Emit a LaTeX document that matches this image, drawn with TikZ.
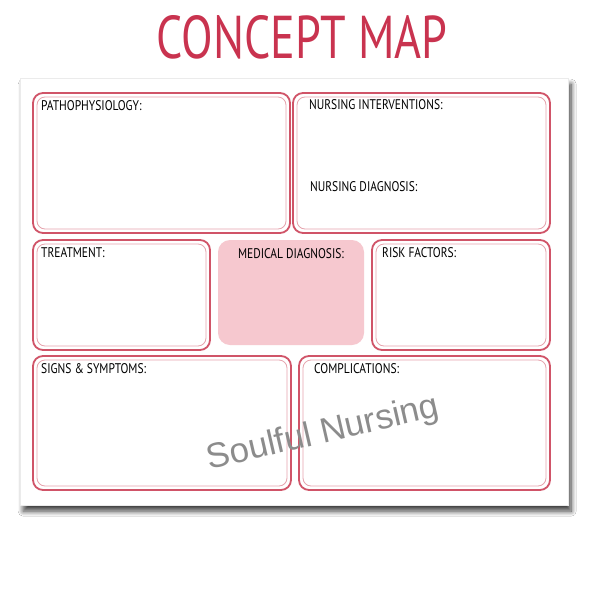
\documentclass[tikz,border=0pt]{standalone}
\usepackage{fontspec}
\setmainfont{PT Sans}
\newfontfamily\wmfont{Liberation Sans}
\usetikzlibrary{shadows.blur}
\definecolor{titlered}{HTML}{C9334F}
\definecolor{outerred}{HTML}{D05468}
\definecolor{innerpink}{HTML}{E6A3AD}
\definecolor{mdpink}{HTML}{F6C8CF}
\newcommand{\lbl}[1]{\scalebox{0.82}[1]{#1}}
\tikzset{
  x=1pt, y=-1pt,
  outerbox/.style={draw=outerred, line width=1.8pt, rounded corners=10pt},
  innerbox/.style={draw=innerpink, line width=0.8pt, rounded corners=8pt},
  boxlabel/.style={font=\fontsize{14}{15}\selectfont, text=black, inner sep=0pt, anchor=west},
  paper/.style={fill=white, draw=black!8, line width=0.4pt,
    blur shadow={shadow xshift=3pt, shadow yshift=-6pt, shadow blur steps=12, shadow blur radius=5pt, shadow opacity=75}}
}
\newcommand{\cbox}[5]{% name, x1, y1, x2, y2
  \draw[outerbox] (#2,#3) rectangle (#4,#5);
  \draw[innerbox] ({#2+4},{#3+4}) rectangle ({#4-4},{#5-4});
  \coordinate (#1) at (#2,#3);
}
\begin{document}
\begin{tikzpicture}
\useasboundingbox (0,0) rectangle (600,600);
\fill[white] (0,0) rectangle (600,600);
% title
\node[text=titlered, inner sep=0pt] (title) at (302,37) {\resizebox{291pt}{43pt}{CONCEPT MAP}};
% paper
\node[paper, minimum width=548pt, minimum height=427pt, inner sep=0pt, anchor=north west] (sheet) at (20,78) {};
% boxes
\cbox{patho}{33}{93}{290}{233}
\cbox{nurs}{293}{93}{550}{233}
\cbox{treat}{33}{240}{210}{350}
\cbox{risk}{372}{240}{550}{350}
\cbox{signs}{33}{356}{291}{490}
\cbox{comp}{299}{356}{550}{490}
\fill[mdpink, rounded corners=12pt] (218,240) rectangle (364,345);
\coordinate (med) at (218,240);
% labels
\node[boxlabel] (lpatho) at (41,106) {\lbl{PATHOPHYSIOLOGY:}};
\node[boxlabel] (lnint) at (309,105) {\lbl{NURSING INTERVENTIONS:}};
\node[boxlabel] (lndiag) at (310,187) {\lbl{NURSING DIAGNOSIS:}};
\node[boxlabel] (ltreat) at (41,253) {\lbl{TREATMENT:}};
\node[boxlabel, anchor=center] (lmed) at (291,254) {\lbl{MEDICAL DIAGNOSIS:}};
\node[boxlabel] (lrisk) at (382,253) {\lbl{RISK FACTORS:}};
\node[boxlabel] (lsigns) at (41,369) {\lbl{SIGNS \& SYMPTOMS:}};
\node[boxlabel] (lcomp) at (314,369) {\lbl{COMPLICATIONS:}};
% watermark
\node[font=\wmfont\fontsize{35}{36}\selectfont, text=black!45, rotate=13, inner sep=0pt] (wm) at (323,434) {Soulful Nursing};
\end{tikzpicture}
\end{document}
